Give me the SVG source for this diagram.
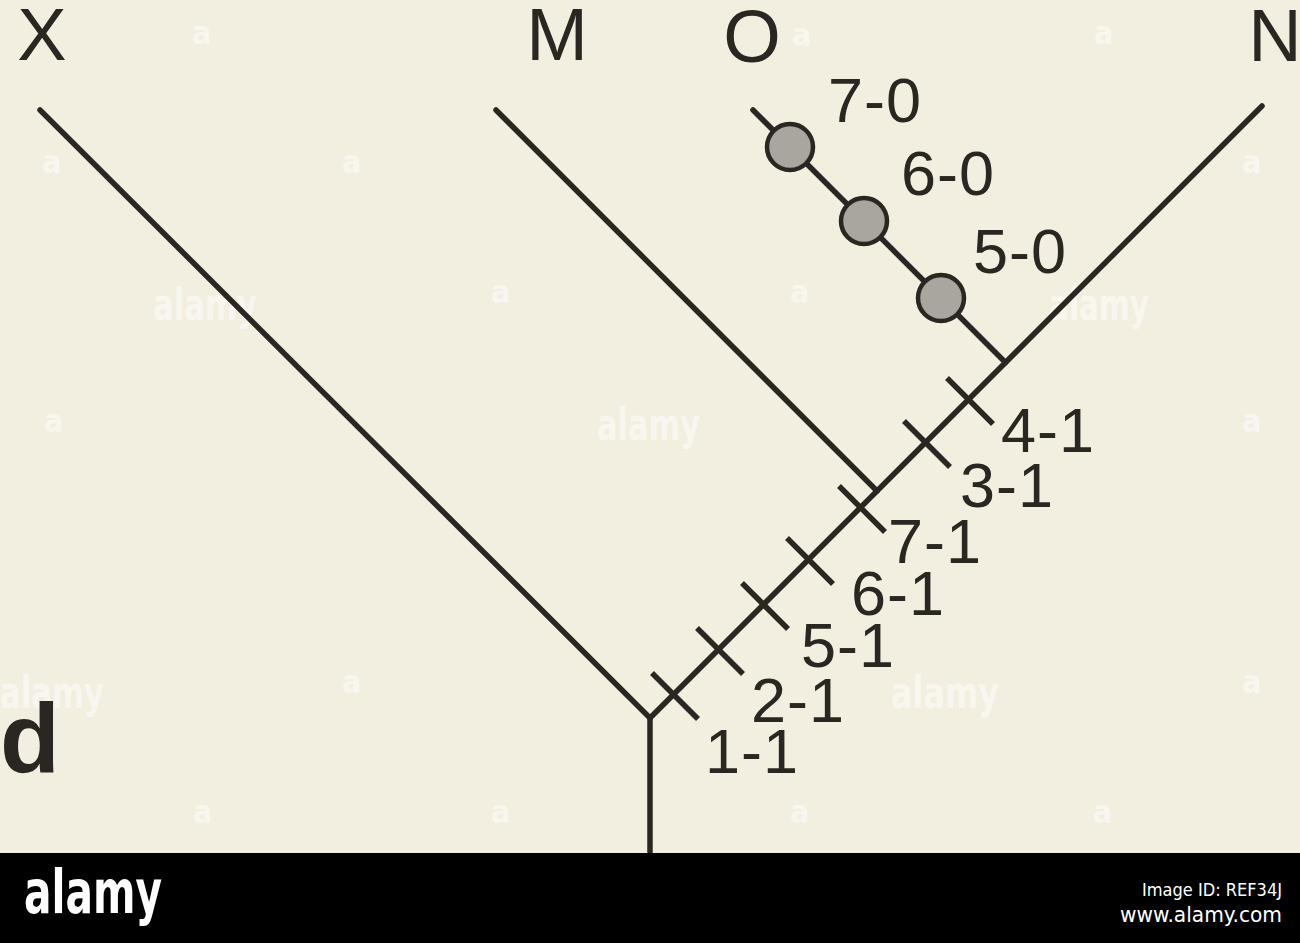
<svg xmlns="http://www.w3.org/2000/svg" width="1300" height="943" viewBox="0 0 1300 943">
<style>
.bg{fill:#f2eee0}
.br{stroke:#2a2621;stroke-width:5.5;stroke-linecap:round;fill:none}
.tk{stroke:#2a2621;stroke-width:5.5;stroke-linecap:butt}
.st{fill:#a9a69f;stroke:#2a2621;stroke-width:4.5}
.tx{font-family:"Liberation Sans",Arial,sans-serif;fill:#2a2621}
.tax{font-size:74px;text-anchor:middle}
.lb{font-size:63px;letter-spacing:1px}
.wm{font-family:"DejaVu Sans Condensed","DejaVu Sans",sans-serif;font-weight:bold;fill:#ffffff;opacity:0.5}
.bn{font-family:"DejaVu Sans Condensed","DejaVu Sans",sans-serif;fill:#ffffff}
</style>
<rect class="bg" x="0" y="0" width="1300" height="943"/>

<g id="watermarks">
<text class="wm" x="153" y="320" font-size="44" textLength="104" lengthAdjust="spacingAndGlyphs">alamy</text>
<text class="wm" x="1049" y="320" font-size="44" textLength="100" lengthAdjust="spacingAndGlyphs">alamy</text>
<text class="wm" x="597" y="440" font-size="44" textLength="103" lengthAdjust="spacingAndGlyphs">alamy</text>
<text class="wm" x="0" y="708" font-size="44" textLength="104" lengthAdjust="spacingAndGlyphs">alamy</text>
<text class="wm" x="891" y="708" font-size="44" textLength="108" lengthAdjust="spacingAndGlyphs">alamy</text>
<g font-size="32">
<text class="wm" x="192" y="44">a</text>
<text class="wm" x="792" y="46">a</text>
<text class="wm" x="1094" y="44">a</text>
<text class="wm" x="42" y="173">a</text>
<text class="wm" x="342" y="173">a</text>
<text class="wm" x="1242" y="173">a</text>
<text class="wm" x="491" y="303">a</text>
<text class="wm" x="790" y="303">a</text>
<text class="wm" x="44" y="432">a</text>
<text class="wm" x="1242" y="432">a</text>
<text class="wm" x="342" y="693">a</text>
<text class="wm" x="1242" y="693">a</text>
<text class="wm" x="193" y="823">a</text>
<text class="wm" x="491" y="823">a</text>
<text class="wm" x="790" y="823">a</text>
<text class="wm" x="1093" y="823">a</text>
</g>
</g>

<g id="connectors">
<line class="br" x1="650" y1="718" x2="650" y2="856"/>
<line class="br" x1="650" y1="718" x2="40" y2="110"/>
<line class="br" x1="650" y1="718" x2="1262" y2="106"/>
<line class="br" x1="496" y1="110" x2="877" y2="491"/>
<line class="br" x1="753" y1="110" x2="1005.5" y2="362.5"/>
</g>

<g id="taxon-X"><text class="tx tax" x="42" y="60">X</text></g>
<g id="taxon-M"><text class="tx tax" x="557" y="60">M</text></g>
<g id="taxon-O"><text class="tx tax" x="752" y="62">O</text></g>
<g id="taxon-N"><text class="tx tax" x="1275" y="61">N</text></g>

<g id="panel-label"><text class="tx" x="0" y="772" font-size="98" font-weight="bold">d</text></g>

<g id="reversals">
<circle class="st" cx="790" cy="147" r="23"/>
<circle class="st" cx="864" cy="221" r="23"/>
<circle class="st" cx="941" cy="298" r="23"/>
<text class="tx lb" x="828" y="122">7-0</text>
<text class="tx lb" x="901" y="195">6-0</text>
<text class="tx lb" x="973" y="273">5-0</text>
</g>

<g id="synapomorphies">
<line class="tk" x1="652" y1="673" x2="698" y2="719"/>
<line class="tk" x1="697" y1="628" x2="743" y2="674"/>
<line class="tk" x1="742" y1="583" x2="788" y2="629"/>
<line class="tk" x1="787" y1="538" x2="833" y2="584"/>
<line class="tk" x1="839" y1="486" x2="885" y2="532"/>
<line class="tk" x1="904" y1="421" x2="950" y2="467"/>
<line class="tk" x1="947" y1="378" x2="993" y2="424"/>
<text class="tx lb" x="705" y="773">1-1</text>
<text class="tx lb" x="751" y="722">2-1</text>
<text class="tx lb" x="801" y="667">5-1</text>
<text class="tx lb" x="851" y="615">6-1</text>
<text class="tx lb" x="888" y="563">7-1</text>
<text class="tx lb" x="960" y="507">3-1</text>
<text class="tx lb" x="1001" y="452">4-1</text>
</g>

<g id="banner">
<rect x="0" y="853" width="1300" height="90" fill="#000000"/>
<text class="bn" x="24" y="913" font-size="60" font-weight="bold" textLength="138" lengthAdjust="spacingAndGlyphs">alamy</text>
<text class="bn" x="1282" y="896" font-size="17" text-anchor="end" textLength="140" lengthAdjust="spacingAndGlyphs">Image ID: REF34J</text>
<text class="bn" x="1282" y="922" font-size="21" text-anchor="end" textLength="162" lengthAdjust="spacingAndGlyphs">www.alamy.com</text>
</g>
</svg>
